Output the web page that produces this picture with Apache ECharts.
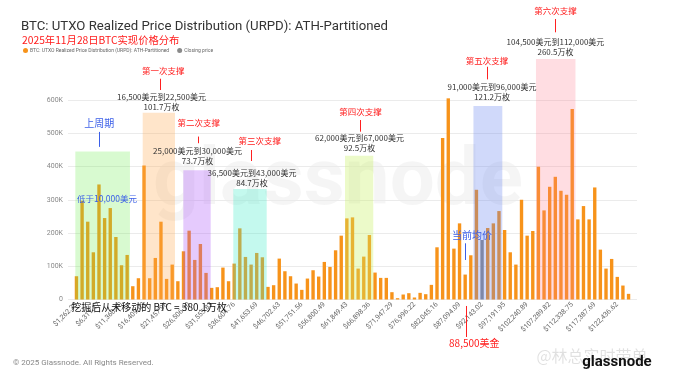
<!DOCTYPE html>
<html><head><meta charset="utf-8">
<script src="https://cdn.jsdelivr.net/npm/echarts@6/dist/echarts.min.js"></script>
<style>html,body{margin:0;padding:0;background:#fff}#c{width:680px;height:383px}</style>
</head><body><div id="c"></div>
<script>
// ATH-partitioned bins (price of each bin, USD)
const binPrices = [0,1262.23,2524.47,3786.70,5048.93,6311.17,7573.40,8835.63,10097.87,11360.10,
12622.33,13884.57,15146.80,16409.03,17671.26,18933.50,20195.73,21457.96,22720.20,23982.43,
25244.66,26506.90,27769.13,29031.36,30293.60,31555.83,32818.06,34080.30,35342.53,36604.76,
37867.00,39129.23,40391.46,41653.69,42915.93,44178.16,45440.40,46702.63,47964.86,49227.09,
50489.33,51751.56,53013.79,54276.03,55538.26,56800.49,58062.73,59324.96,60587.19,61849.43,
63111.66,64373.89,65636.13,66898.36,68160.59,69422.83,70685.06,71947.29,73209.53,74471.76,
75733.99,76996.22,78258.46,79520.69,80782.92,82045.16,83307.39,84569.62,85831.86,87094.09,
88356.32,89618.56,90880.79,92143.02,93405.26,94667.49,95929.72,97191.95,98454.19,99716.42,
100978.66,102240.89,103503.12,104765.36,106027.59,107289.82,108552.06,109814.29,111076.52,112338.75,
113600.99,114863.22,116125.45,117387.69,118649.92,119912.15,121174.39,122436.62,123698.85,124961.09,
126223.32];
// BTC supply per bin
const supply = [null,70000,297000,234000,142000,346000,245000,275000,188000,103000,
134000,40000,64000,403000,64000,125000,234000,62000,105000,55000,
145000,207000,119000,167000,80000,35000,37000,96000,55000,108000,
214000,128000,105000,140000,127000,38000,43000,123000,85000,70000,
48000,29000,63000,88000,69000,113000,98000,148000,192000,244000,
247000,93000,129000,194000,81000,65000,65000,22000,4000,15000,
19000,6000,20000,16000,44000,157000,486000,605000,153000,229000,
75000,133000,330000,null,215000,229000,266000,209000,142000,105000,
300000,192000,206000,399000,268000,339000,369000,327000,315000,573000,
241000,281000,241000,337000,150000,93000,122000,68000,42000,17000,
null];
const closingIndex = 73;
const closingSupply = 179000;

// annotation definitions (bin-index units / BTC units)
const zones = [
  {x0:0.8, x1:10.5, top:445000, color:'rgba(110,235,80,0.27)'},
  {x0:12.76, x1:18.49, top:562000, color:'rgba(255,170,80,0.3)'},
  {x0:19.97, x1:24.83, top:389000, color:'rgba(170,80,250,0.3)'},
  {x0:28.84, x1:34.77, top:332000, color:'rgba(60,235,200,0.3)'},
  {x0:48.67, x1:53.69, top:432000, color:'rgba(200,240,100,0.35)'},
  {x0:71.47, x1:76.59, top:582000, color:'rgba(100,130,240,0.3)'},
  {x0:82.57, x1:89.58, top:723000, color:'rgba(255,120,140,0.25)'}
];
const RED='#ff2020', BLUE='#3a5ee8', BLK='#333';
const notes = [
  {t:'上周期', k:5.06, v:530000, c:BLUE, s:10},
  {t:'低于10,000美元', k:6.42, v:304000, c:BLUE, s:8.5},
  {t:'第一次支撑', k:16.4, v:687000, c:RED, s:8.5},
  {t:'16,500美元到22,500美元\n101.7万枚', k:16.1, v:595000, c:BLK, s:8},
  {t:'第二次支撑', k:22.7, v:533000, c:RED, s:8.5},
  {t:'25,000美元到30,000美元\n73.7万枚', k:22.49, v:431600, c:BLK, s:8},
  {t:'第三次支撑', k:33.53, v:476700, c:RED, s:8.5},
  {t:'36,500美元到43,000美元\n84.7万枚', k:32.16, v:367000, c:BLK, s:8},
  {t:'第四次支撑', k:51.42, v:564800, c:RED, s:8.5},
  {t:'62,000美元到67,000美元\n92.5万枚', k:51.24, v:469800, c:BLK, s:8},
  {t:'第五次支撑', k:73.87, v:718000, c:RED, s:8.5},
  {t:'91,000美元到96,000美元\n121.2万枚', k:74.76, v:623000, c:BLK, s:8},
  {t:'第六次支撑', k:86.03, v:868600, c:RED, s:8.5},
  {t:'104,500美元到112,000美元\n260.5万枚', k:86.03, v:758500, c:BLK, s:8},
  {t:'当前均价', k:71.21, v:194000, c:BLUE, s:10},
  {t:'88,500美金', k:71.62, v:-132000, c:RED, s:10},
  {t:'挖掘后从未移动的 BTC = 380.1万枚', k:13.88, v:-21700, c:'#111', s:10}
];
const arrows = [
  {k:5.09, v0:504000, v1:459000, c:BLUE},
  {k:15.83, v0:664000, v1:630000, c:RED},
  {k:22.57, v0:490000, v1:470000, c:RED},
  {k:32.1, v0:449600, v1:416500, c:RED},
  {k:51.33, v0:539800, v1:504700, c:RED},
  {k:73.92, v0:700000, v1:662000, c:RED},
  {k:86.07, v0:843600, v1:803600, c:RED},
  {k:70.09, v0:169000, v1:118800, c:BLUE},
  {k:70.27, v0:-112800, v1:-19500, c:RED}
];

const fmtPrice = p => '$' + Number(p).toLocaleString('en-US',{minimumFractionDigits:2, maximumFractionDigits:2});
const FONT = 'Roboto, "Noto Sans CJK SC", sans-serif';
const CJK = '"Noto Sans CJK SC", Roboto, sans-serif';
const ORANGE = '#f7931a';

const chart = echarts.init(document.getElementById('c'), null, {renderer:'canvas'});
const G = {left:68, right:43};
chart.setOption({
  animation:false,
  backgroundColor:'#fff',
  textStyle:{fontFamily:FONT},
  title:[
    {text:'BTC: UTXO Realized Price Distribution (URPD): ATH-Partitioned', left:16, top:15,
     textStyle:{fontSize:13.2, fontWeight:'normal', color:'#333', fontFamily:FONT}},
    {text:'2025年11月28日BTC实现价格分布', left:17, top:30,
     textStyle:{fontSize:10.3, fontWeight:'normal', color:'#ff1a1a', fontFamily:CJK}}
  ],
  legend:{data:['BTC: UTXO Realized Price Distribution (URPD): ATH-Partitioned','Closing price'],
    left:18, top:43, icon:'circle', itemWidth:5, itemHeight:5, itemGap:8,
    textStyle:{fontSize:5, color:'#666', padding:[0,0,0,-3]}},
  grid:[
    {left:G.left, right:G.right, top:100, bottom:83.5},
    {left:G.left, right:G.right, top:0.25, bottom:0.375}
  ],
  xAxis:[
    {type:'category', gridIndex:0, data:binPrices.map(fmtPrice), boundaryGap:true,
     axisLine:{show:false}, axisTick:{show:false},
     axisLabel:{rotate:45, fontSize:7, color:'#666', margin:4,
       interval:(i)=> i>=1 && i<=97 && (i-1)%4===0}},
    {type:'value', gridIndex:1, min:-0.5, max:binPrices.length-0.5, show:false}
  ],
  yAxis:[
    {type:'value', gridIndex:0, min:0, max:600000, interval:100000,
     axisLabel:{fontSize:7, color:'#888', margin:5, formatter:v=> v===0?'0':(v/1000)+'K'},
     splitLine:{lineStyle:{color:'#ebebeb', width:1}}},
    {type:'value', gridIndex:1, min:-250000, max:900000, show:false}
  ],
  graphic:[
    {type:'text', z:0, style:{x:338, y:184, text:'glassnode', fontSize:80, fontWeight:'bold',
      fontFamily:FONT, fill:'rgba(0,0,0,0.04)', textAlign:'center', textVerticalAlign:'middle'}},
    {type:'text', style:{x:13, y:363, text:'© 2025 Glassnode. All Rights Reserved.', fontSize:8,
      fill:'#888', fontFamily:FONT, textVerticalAlign:'middle'}},
    {type:'text', style:{x:592, y:356, text:'@林总实时带单', fontSize:16, fontFamily:CJK,
      fill:'rgba(0,0,0,0.12)', textAlign:'center', textVerticalAlign:'middle'}},
    {type:'text', style:{x:617, y:362, text:'glassnode', fontSize:15, fontWeight:'bold',
      fontFamily:FONT, fill:'#111', textAlign:'center', textVerticalAlign:'middle'}}
  ],
  series:[
    {name:'BTC: UTXO Realized Price Distribution (URPD): ATH-Partitioned', type:'bar',
     xAxisIndex:0, yAxisIndex:0, data:supply, barCategoryGap:'40%', barGap:'-100%', clip:false,
     itemStyle:{color:ORANGE}},
    {name:'Closing price', type:'bar', xAxisIndex:0, yAxisIndex:0,
     data:binPrices.map((p,i)=> i===closingIndex ? closingSupply : null),
     barCategoryGap:'40%', barGap:'-100%', itemStyle:{color:'#8a8a8a'}},
    {type:'line', xAxisIndex:1, yAxisIndex:1, data:[], z:5, silent:true,
     markArea:{silent:true, z:5, data: zones.map(z=>[
        {coord:[z.x0, 0], itemStyle:{color:z.color}}, {coord:[z.x1, z.top]}])},
     markLine:{silent:true, z:6, symbol:['none','arrow'], symbolSize:[0,5], label:{show:false},
        data: arrows.map(a=>[{coord:[a.k, a.v0], lineStyle:{color:a.c, width:1, type:'solid'}},
                             {coord:[a.k, a.v1]}])},
     markPoint:{silent:true, z:7, symbol:'circle', symbolSize:0,
        data: notes.map(n=>({coord:[n.k, n.v], value:0,
          label:{show:true, position:'inside', formatter:n.t, color:n.c, fontSize:n.s,
                 lineHeight:n.s+2, fontFamily:CJK, align:'center', verticalAlign:'middle'}}))}
    }
  ]
});
</script>
</body></html>
